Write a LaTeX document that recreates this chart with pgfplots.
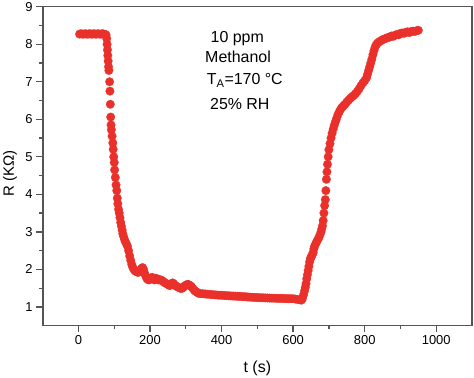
\documentclass[border=0pt]{standalone}
\usepackage{fontspec}
\setmainfont{Liberation Sans}
\usepackage{pgfplots}
\pgfplotsset{compat=1.18}
\definecolor{dotred}{RGB}{234,48,42}
\definecolor{axgrey}{RGB}{85,85,85}
\pgfplotstableread{
x y
3 8.27
7 8.28
11 8.27
15 8.27
19 8.28
23 8.27
27 8.27
31 8.28
35 8.27
39 8.27
43 8.28
47 8.27
51 8.27
55 8.28
59 8.27
63 8.27
67 8.28
71 8.27
75 8.26
77 8.25
79 8.15
80 8.0
81 7.85
82 7.7
83 7.55
84 7.4
85 7.3
87 7.0
88 6.75
89 6.4
90 6.06
91 5.85
92 5.72
94 5.55
96 5.37
97 5.2
98.5 5.0
100 4.85
101 4.65
103 4.45
105 4.25
107 4.1
108.5 3.9
110 3.75
112 3.6
114 3.5
116 3.38
118 3.25
120 3.15
122 3.05
124 2.95
126 2.88
128.5 2.8
131 2.74
134 2.68
137 2.62
140 2.5
143 2.36
146 2.24
149 2.13
152 2.05
155 2.0
158 1.96
161 1.95
164 1.93
167 1.92
170 1.95
173 1.98
176 2.02
179 2.05
182 2.0
185 1.9
188 1.82
191 1.76
194 1.73
197 1.72
200 1.74
203 1.77
206 1.79
209 1.76
212 1.72
215 1.74
218 1.76
221 1.74
224 1.72
227 1.72
230 1.72
234 1.70
238 1.67
242 1.64
246 1.62
250 1.60
254 1.57
257 1.58
260 1.62
263 1.64
266 1.62
269 1.58
272 1.56
276 1.54
280 1.52
284 1.50
288 1.49
292 1.51
296 1.55
300 1.58
304 1.60
307 1.60
310 1.58
313 1.56
316 1.54
320 1.49
324 1.44
328 1.41
332 1.39
336 1.36
342 1.355
348 1.35
354 1.345
360 1.34
366 1.335
372 1.33
378 1.325
384 1.32
390 1.315
396 1.312
402 1.31
408 1.305
414 1.30
420 1.297
426 1.293
432 1.29
438 1.287
444 1.283
450 1.28
456 1.277
462 1.273
468 1.27
474 1.265
480 1.26
486 1.257
492 1.253
498 1.25
504 1.248
510 1.245
516 1.243
522 1.24
528 1.238
534 1.236
540 1.234
546 1.232
552 1.23
558 1.228
564 1.227
570 1.225
576 1.224
582 1.222
588 1.221
594 1.22
600 1.218
606 1.21
612 1.20
618 1.19
623 1.18
626 1.22
629 1.32
632 1.43
634 1.52
636 1.62
638 1.75
640 1.86
642 1.97
644 2.08
646 2.2
648 2.28
650 2.32
652 2.36
654 2.4
656 2.45
658 2.55
660 2.62
663 2.68
666 2.74
669 2.79
672 2.85
675 2.92
678 3.0
680 3.08
682 3.16
684 3.3
686 3.5
688 3.7
690 3.86
691.5 4.1
693 4.4
694.5 4.6
696 4.8
698 5.0
700 5.19
703 5.35
706 5.5
709 5.63
712 5.74
715 5.84
718 5.93
721 6.01
725 6.12
729 6.2
733 6.27
737 6.32
741 6.36
745 6.4
750 6.46
755 6.51
760 6.56
765 6.6
770 6.64
775 6.69
780 6.75
785 6.82
790 6.9
795 6.97
800 7.03
805 7.1
808 7.2
811 7.3
814 7.4
817 7.5
820 7.6
823 7.72
826 7.83
829 7.92
832 7.98
836 8.03
840 8.06
845 8.09
850 8.12
855 8.14
860 8.16
865 8.18
870 8.19
875 8.22
880 8.21
885 8.24
890 8.26
895 8.25
900 8.29
905 8.30
910 8.29
915 8.32
920 8.33
925 8.31
930 8.34
935 8.35
940 8.34
945 8.36
950 8.37
}\resdata
\begin{document}
\begin{tikzpicture}
\begin{axis}[
  name=ax,
  scale only axis,
  width=429.3bp, height=319bp,
  xmin=-100, xmax=1100,
  ymin=0.5, ymax=9,
  xtick={0,200,400,600,800,1000},
  ytick={1,2,3,4,5,6,7,8,9},
  minor tick num=1,
  tick align=outside,
  xtick pos=bottom, ytick pos=left,
  major tick length=6.5bp,
  minor tick length=3.5bp,
  axis line style={draw=axgrey, line width=1.6bp},
  every tick/.style={draw=axgrey, line width=1.3bp},
  /pgf/number format/assume math mode=true,
  /pgf/number format/1000 sep={},
  tick label style={font=\fontsize{13}{15}\selectfont, text=black},
  xlabel={t (s)},
  ylabel={R (KΩ)},
  xlabel style={at={(axis description cs:0.5,-0.1467)}, anchor=base, font=\fontsize{16}{18}\selectfont},
  ylabel style={at={(axis description cs:-0.0669,0.477)}, anchor=base, font=\fontsize{15}{18}\selectfont},
  clip=false,
]
\addplot[only marks, mark=*, mark size=4.3bp, color=dotred, mark options={fill=dotred, draw=dotred, line width=0.2bp}] table[x=x, y=y] {\resdata};
\node[anchor=base, font=\fontsize{16}{18}\selectfont] at (axis cs:444,8.04) {10 ppm};
\node[anchor=base, font=\fontsize{16}{18}\selectfont] at (axis cs:446,7.51) {Methanol};
\node[anchor=base, font=\fontsize{16}{18}\selectfont] at (axis cs:465,6.92) {T\textsubscript{A}=170 °C};
\node[anchor=base, font=\fontsize{16}{18}\selectfont] at (axis cs:451,6.25) {25\% RH};
\end{axis}
\pgfresetboundingbox
\path[use as bounding box] ([shift={(-42.7bp,-52.3bp)}]ax.south west) rectangle ([shift={(2bp,6.7bp)}]ax.north east);
\end{tikzpicture}
\end{document}
